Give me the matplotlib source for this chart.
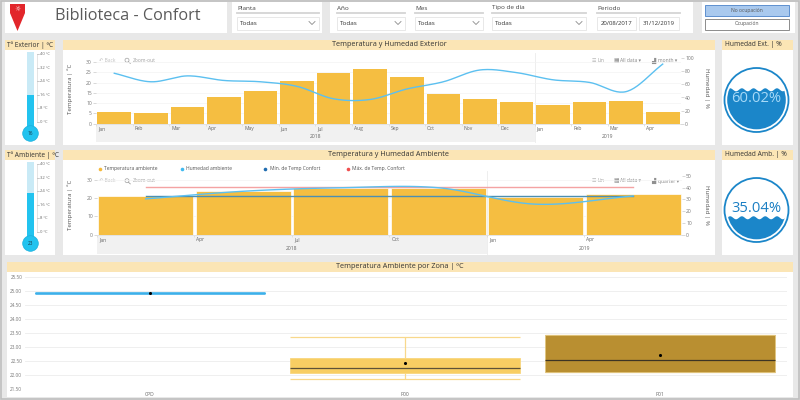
import numpy as np
import matplotlib
matplotlib.use('Agg')
import matplotlib.pyplot as plt
from matplotlib.patches import Rectangle, Circle, Polygon
from matplotlib.transforms import blended_transform_factory as btf, ScaledTranslation

plt.rcParams['font.family'] = ['Open Sans', 'DejaVu Sans']

# ---------------- data ----------------
ext_months = ['Jan', 'Feb', 'Mar', 'Apr', 'May', 'Jun', 'Jul', 'Aug', 'Sep', 'Oct', 'Nov', 'Dec',
              'Jan', 'Feb', 'Mar', 'Apr']
ext_years = [2018] * 12 + [2019] * 4
ext_temp = [5.8, 5.4, 8.1, 13.1, 15.7, 20.8, 24.8, 26.4, 22.6, 14.4, 11.9, 10.5, 9.2, 10.5, 10.9, 5.7]
ext_hum = [77, 64, 73, 66, 64, 57, 38, 37, 53, 64, 82, 78, 67, 63, 49, 91]

amb_quarters = ['Jan', 'Apr', 'Jul', 'Oct', 'Jan', 'Apr']
amb_years = [2018] * 4 + [2019] * 2
amb_temp = [20.9, 23.6, 25.5, 25.5, 20.4, 22.2]
amb_hum = [30.5, 37, 40, 40, 26, 33]
amb_min_confort = [21, 21, 21, 21, 21, 21]
amb_max_confort = [26, 26, 26, 26, 26, 26]

temp_ext_now = 16
temp_amb_now = 23
therm_ticks = [0, 8, 16, 24, 32, 40]
hum_ext_pct = 60.02
hum_amb_pct = 35.04

zones = ['CPD', 'P00', 'P01']
zone_q1 = [24.95, 22.07, 22.11]
zone_median = [24.95, 22.26, 22.53]
zone_q3 = [24.95, 22.61, 23.45]
zone_wlow = [24.95, 21.87, 22.11]
zone_whigh = [24.95, 23.35, 23.45]
zone_mean = [24.95, 22.43, 22.71]
zone_ticks = [21.5, 22.0, 22.5, 23.0, 23.5, 24.0, 24.5, 25.0, 25.5]

filter_labels = ['Planta', 'Año', 'Mes', 'Tipo de día', 'Periodo']
filter_value = 'Todas'
period_dates = ['20/08/2017', '31/12/2019']

# ---------------- helpers ----------------
W, H = 800, 400
HDR = '#FBE5B5'
GOLD = '#F5BE41'
fig = plt.figure(figsize=(8, 4), dpi=100)
fig.patch.set_facecolor('#E8E8E8')
bg = fig.add_axes([0, 0, 1, 1])
bg.set_xlim(0, W)
bg.set_ylim(H, 0)
bg.axis('off')
bg.set_zorder(0)


def R(x0, y0, x1, y1, fc, ec='none', lw=0, z=1):
    bg.add_patch(Rectangle((x0, y0), x1 - x0, y1 - y0, facecolor=fc, edgecolor=ec, linewidth=lw, zorder=z))


def T(x, y, s, size=5, color='#444', ha='left', va='center', **kw):
    return bg.text(x, y, s, fontsize=size, color=color, ha=ha, va=va, **kw)


def pax(x0, y0, x1, y1):
    a = fig.add_axes([x0 / W, 1 - y1 / H, (x1 - x0) / W, (y1 - y0) / H])
    a.set_facecolor('none')
    a.set_zorder(2)
    return a


def smooth(xs, ys, n=24):
    P = np.column_stack([np.asarray(xs, float), np.asarray(ys, float)])
    P = np.vstack([2 * P[0] - P[1], P, 2 * P[-1] - P[-2]])
    out = []
    t = np.linspace(0, 1, n, endpoint=False)[:, None]
    for i in range(1, len(P) - 2):
        p0, p1, p2, p3 = P[i - 1], P[i], P[i + 1], P[i + 2]
        out.append(0.5 * ((2 * p1) + (-p0 + p2) * t + (2 * p0 - 5 * p1 + 4 * p2 - p3) * t ** 2
                          + (-p0 + 3 * p1 - 3 * p2 + p3) * t ** 3))
    out.append(P[-2][None, :])
    out = np.vstack(out)
    return out[:, 0], out[:, 1]


def chevron(x, y):
    bg.plot([x - 3, x, x + 3], [y - 1.5, y + 1.5, y - 1.5], color='#8a8a8a', lw=0.6, zorder=3)


# ---------------- frame / panels ----------------
R(1, 1, 799, 399, 'none', ec='#BEBEBE', lw=1.2, z=5)
R(5, 2, 227, 33, 'white')
R(232, 2, 322, 33, 'white')
R(330, 2, 693, 33, 'white')
R(702, 2, 795, 33, 'white')
for off in (0, 110):
    R(5, 40 + off, 55, 50 + off, HDR)
    R(5, 50 + off, 55, 145 + off, 'white')
    R(63, 40 + off, 715, 50 + off, HDR)
    R(63, 50 + off, 715, 145 + off, 'white')
    R(722, 40 + off, 793, 50 + off, HDR)
    R(722, 50 + off, 793, 145 + off, 'white')
R(7, 262, 793, 272, HDR)
R(7, 272, 793, 397, 'white')

# ---------------- header ----------------
bg.add_patch(Polygon([(10, 4), (25, 4), (25, 13), (17.5, 31), (10, 13)], closed=True,
                     facecolor='#E2262B', edgecolor='none', zorder=3))
T(17.5, 9, '☼', size=5, color='white', ha='center', family=['DejaVu Sans'], zorder=4)
T(55, 16.5, 'Biblioteca - Confort', size=11.7, color='#5a5a5a')

flt_x = [(237, 319), (337, 405), (415, 483), (492, 586), (597, 680)]
for lab, (x0, x1) in zip(filter_labels, flt_x):
    T(x0, 8, lab, size=4.6, color='#444')
    bg.plot([x0, x1], [13, 13], color='#D4D4D4', lw=1.3, zorder=3)
for (x0, x1) in flt_x[:4]:
    R(x0, 17, x1, 30, 'white', ec='#E4E4E4', lw=0.6, z=2)
    T(x0 + 3, 23.8, filter_value, size=4.6, color='#333')
    chevron(x1 - 7, 23)
for d, (x0, x1) in zip(period_dates, [(597, 636), (639, 679)]):
    R(x0, 17, x1, 30, 'white', ec='#E4E4E4', lw=0.6, z=2)
    T((x0 + x1) / 2, 23.8, d, size=4.3, color='#333', ha='center')

R(705, 4.5, 789, 16, '#A9C9EE', ec='#5E90CF', lw=0.7, z=3)
T(747, 10.3, 'No ocupación', size=3.6, color='#555', ha='center', zorder=4)
R(705, 18.5, 789, 29.5, 'white', ec='#8C8C8C', lw=0.7, z=3)
T(747, 24, 'Ocupación', size=3.6, color='#555', ha='center', zorder=4)

# ---------------- thermometers ----------------
def thermometer(off, value, title):
    T(7, 45 + off, title, size=4.8, color='#333')
    y0, y40 = 122 + off, 54 + off
    scale = (y0 - y40) / 40.0
    yv = y0 - value * scale
    R(27, 52 + off, 34, yv, '#C9EAF6', z=2)
    R(27, yv, 34, 130 + off, '#22C3EF', z=2)
    bg.add_patch(Circle((30.5, 133.5 + off), 7.8, facecolor='#22C3EF', edgecolor='#18B0DD',
                        lw=0.5, zorder=3))
    T(30.5, 133.7 + off, str(value), size=3.4, color='#1a3a4a', ha='center', zorder=4)
    bg.plot([37, 37], [y40, y0], color='#D0D0D0', lw=0.4, zorder=2)
    for tv in therm_ticks:
        yy = y0 - tv * scale
        bg.plot([36.5, 39], [yy, yy], color='#A0A0A0', lw=0.4, zorder=2)
        T(40, yy, f'{tv} ºC', size=3.0, color='#666')


thermometer(0, temp_ext_now, 'Tª Exterior | ºC')
thermometer(110, temp_amb_now, 'Tª Ambiente | ºC')

# ---------------- gauges ----------------
def gauge(off, pct, title, tcol):
    T(725, 45 + off, title, size=4.8, color='#333')
    cx, cy, r = 756.5, 100 + off, 32
    bg.add_patch(Circle((cx, cy), r, fill=False, edgecolor='#1B86C9', lw=1.3, zorder=3))
    ri = 29.3
    clip = Circle((cx, cy), ri, transform=bg.transData)
    level = cy + 33 - pct * 0.72
    xs = np.linspace(cx - ri - 1, cx + ri + 1, 300)
    ys = level + 1.5 * np.sin((xs - cx) / 11.7 * 2 * np.pi)
    poly = Polygon(np.column_stack([np.r_[xs, xs[-1], xs[0]], np.r_[ys, cy + 40, cy + 40]]),
                   closed=True, facecolor='#1B86C9', edgecolor='none', zorder=2)
    bg.add_patch(poly)
    poly.set_clip_path(clip)
    T(cx, cy - 2, f'{pct:.2f}%', size=10.6, color=tcol, ha='center', zorder=4)


gauge(0, hum_ext_pct, 'Humedad Ext. | %', '#A6D9F7')
gauge(110, hum_amb_pct, 'Humedad Amb. | %', '#1B7FC3')


# ---------------- common chart styling ----------------
def style_axes(a, ar):
    for s in ['top', 'left', 'right']:
        a.spines[s].set_visible(False)
        ar.spines[s].set_visible(False)
    ar.spines['bottom'].set_visible(False)
    a.spines['bottom'].set_color('#E0E0E0')
    a.spines['bottom'].set_linewidth(0.6)
    a.tick_params(axis='y', labelsize=3.6, labelcolor='#777', length=2, width=0.4, color='#BBB', pad=1)
    ar.tick_params(axis='y', labelsize=3.6, labelcolor='#777', length=2, width=0.4, color='#BBB', pad=1)
    a.tick_params(axis='x', labelsize=3.6, labelcolor='#666', length=1.6, width=0.5, color='#D8D8D8', pad=0.3)
    a.yaxis.grid(True, color='#F3F3F3', lw=0.5)
    a.set_axisbelow(True)
    off = ScaledTranslation(2 / 100, 0, fig.dpi_scale_trans)
    for lab in a.get_xticklabels():
        lab.set_transform(lab.get_transform() + off)
        lab.set_ha('left')


def year_groups(a, years, band_lo, band_hi, year_y):
    tr = btf(a.transData, a.transAxes)
    yrs = sorted(set(years))
    for k, yv in enumerate(yrs):
        idx = [i for i, v in enumerate(years) if v == yv]
        x0, x1 = idx[0], idx[-1] + 1
        if k == 0:
            a.add_patch(Rectangle((x0, band_lo), x1 - x0, band_hi - band_lo, transform=tr,
                                  facecolor='#F1F1F1', edgecolor='none', clip_on=False, zorder=0))
        else:
            a.plot([x0, x0], [band_lo, 1.08], transform=tr, color='#EBEBEB', lw=0.6,
                   clip_on=False, zorder=0.5)
        a.text((x0 + x1) / 2, year_y, str(yv), transform=tr, fontsize=3.6, color='#666',
               ha='center', va='center')


def toolbar(y, last):
    T(99, y, '↶ Back', size=3.6, color='#C2C2C2')
    bg.add_patch(Circle((127, y - 0.3), 2.0, fill=False, edgecolor='#A0A0A0', lw=0.5, zorder=3))
    bg.plot([128.4, 130.3], [y + 1.2, y + 2.9], color='#A0A0A0', lw=0.6, zorder=3)
    T(133, y, 'Zoom-out', size=3.6, color='#A0A0A0')
    T(592, y, '☰', size=3.6, color='#B0B0B0', family=['DejaVu Sans'])
    T(598, y, 'Lin', size=3.6, color='#A0A0A0')
    T(613, y, '▦', size=4.2, color='#909090', family=['DejaVu Sans'])
    T(620, y, 'All data ▾', size=3.6, color='#888', family=['Open Sans', 'DejaVu Sans'])
    T(651, y, '▟', size=4.0, color='#909090', family=['DejaVu Sans'])
    T(658, y, last + ' ▾', size=3.6, color='#888', family=['Open Sans', 'DejaVu Sans'])


# ---------------- top chart: exterior ----------------
T(389, 45, 'Temperatura y Humedad Exterior', size=5.2, color='#333', ha='center')
ax1 = pax(96, 58.2, 681, 123.7)
xm = np.arange(len(ext_temp)) + 0.5
ax1.bar(xm, ext_temp, width=0.92, color=GOLD, zorder=2)
ax1.set_xlim(0, len(ext_temp))
ax1.set_ylim(0, 31.85)
ax1.set_yticks([0, 5, 10, 15, 20, 25, 30])
ax1.set_xticks(np.arange(len(ext_months)))
ax1.set_xticklabels(ext_months)
ax1r = ax1.twinx()
ax1r.set_zorder(3)
ax1r.set_facecolor('none')
sx, sy = smooth(xm, ext_hum)
ax1r.plot(sx, sy, color='#5CC0F0', lw=1.0)
ax1r.set_ylim(0, 100)
ax1r.set_yticks([0, 20, 40, 60, 80, 100])
style_axes(ax1, ax1r)
year_groups(ax1, ext_years, -0.28, -0.005, -0.2)
toolbar(60.5, 'month')
T(70, 89, 'Temperatura | ºC', size=4.4, color='#555', ha='center', rotation=90)
T(706, 88, 'Humedad | %', size=4.4, color='#555', ha='center', rotation=-90)

# ---------------- middle chart: ambiente ----------------
T(389, 155, 'Temperatura y Humedad Ambiente', size=5.2, color='#333', ha='center')
leg = [('Temperatura ambiente', '#F5B93B', 100), ('Humedad ambiente', '#3FB9F0', 181.5),
       ('Mín. de Temp Confort', '#1F6CB0', 265), ('Máx. de Temp. Confort', '#F04E4E', 347.5)]
for name, col, lx in leg:
    bg.plot([lx], [168.8], marker='o', ms=2.6, color=col, mec='none', zorder=3)
    T(lx + 4.5, 168.8, name, size=3.6, color='#555')

ax2 = pax(97, 176, 682, 234.7)
xq = np.arange(len(amb_temp)) + 0.5
ax2.bar(xq, amb_temp, width=0.975, color=GOLD, edgecolor='white', lw=0.5, zorder=2)
ax2.set_xlim(0, len(amb_temp))
ax2.set_ylim(0, 32.0)
ax2.set_yticks([0, 10, 20, 30])
ax2.plot(xq, amb_max_confort, color='#F4A3A3', lw=1.0, zorder=3)
ax2.plot(xq, amb_min_confort, color='#4B8FB3', lw=1.0, zorder=3)
ax2.set_xticks(np.arange(len(amb_quarters)))
ax2.set_xticklabels(amb_quarters)
ax2r = ax2.twinx()
ax2r.set_zorder(3)
ax2r.set_facecolor('none')
qx, qy = smooth(xq, amb_hum)
ax2r.plot(qx, qy, color='#5CC0F0', lw=1.0)
ax2r.set_ylim(0, 50)
ax2r.set_yticks([0, 10, 20, 30, 40, 50])
style_axes(ax2, ax2r)
year_groups(ax2, amb_years, -0.33, -0.005, -0.23)
toolbar(181, 'quarter')
T(70, 205, 'Temperatura | ºC', size=4.4, color='#555', ha='center', rotation=90)
T(706, 205, 'Humedad | %', size=4.4, color='#555', ha='center', rotation=-90)

# ---------------- bottom: boxplot by zone ----------------
T(400, 267, 'Temperatura Ambiente por Zona | ºC', size=5.2, color='#333', ha='center')
ax3 = pax(25, 277.3, 787, 389)
xi = np.arange(len(zones))
q1 = np.array(zone_q1)
q3 = np.array(zone_q3)
box_fc = ['#3CB0EA', '#F8CE63', '#B98F31']
box_ec = ['#3CB0EA', '#F8D67E', '#E2C680']
whisk_c = ['#3CB0EA', '#F8D88C', '#E2C680']
med_c = ['#3CB0EA', '#5E5237', '#3D3424']
bw = 0.9
ax3.bar(xi, q3 - q1, bottom=q1, width=bw, color=box_fc, edgecolor=box_ec, lw=0.6, zorder=2)
ax3.vlines(xi, zone_wlow, zone_q1, colors=whisk_c, lw=0.9, zorder=1.8)
ax3.vlines(xi, zone_q3, zone_whigh, colors=whisk_c, lw=0.9, zorder=1.8)
ax3.hlines(zone_whigh, xi - bw / 2, xi + bw / 2, colors=whisk_c, lw=0.9, zorder=1.8)
ax3.hlines(zone_wlow, xi - bw / 2, xi + bw / 2, colors=whisk_c, lw=0.9, zorder=1.8)
ax3.hlines(zone_median, xi - bw / 2, xi + bw / 2, colors=med_c, lw=[1.8, 0.9, 0.9], zorder=3)
ax3.scatter(xi, zone_mean, s=5, color='black', zorder=4, linewidths=0)
ax3.set_xlim(-0.49, 2.498)
ax3.set_ylim(21.5, 25.5)
ax3.set_yticks(zone_ticks)
ax3.set_yticklabels([f'{v:.2f}' for v in zone_ticks])
ax3.set_xticks(xi)
ax3.set_xticklabels(zones)
for s in ax3.spines.values():
    s.set_visible(False)
ax3.yaxis.grid(True, color='#ECECEC', lw=0.6)
ax3.set_axisbelow(True)
ax3.tick_params(axis='y', labelsize=3.4, labelcolor='#777', length=0, pad=2)
ax3.tick_params(axis='x', labelsize=3.6, labelcolor='#666', length=0, pad=2.5)

fig.savefig('out.png', dpi=100, facecolor=fig.get_facecolor())
